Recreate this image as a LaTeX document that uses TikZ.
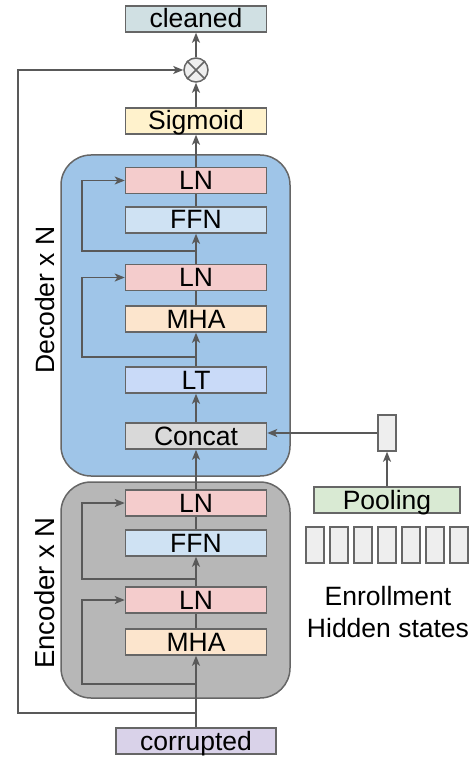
\documentclass[tikz,border=0pt]{standalone}
\usepackage{fontspec}
\setmainfont{Liberation Sans}
\usepackage{tikz}
\usetikzlibrary{arrows.meta}
\definecolor{lineGrey}{HTML}{595959}
\definecolor{boxGrey}{HTML}{666666}
\definecolor{cleanFill}{HTML}{D0E0E3}
\definecolor{sigFill}{HTML}{FFF2CC}
\definecolor{decFill}{HTML}{9FC5E8}
\definecolor{encFill}{HTML}{B7B7B7}
\definecolor{lnFill}{HTML}{F4CCCC}
\definecolor{ffnFill}{HTML}{CFE2F3}
\definecolor{mhaFill}{HTML}{FCE5CD}
\definecolor{ltFill}{HTML}{C9DAF8}
\definecolor{catFill}{HTML}{D9D9D9}
\definecolor{inFill}{HTML}{D9D2E9}
\definecolor{poolFill}{HTML}{D9EAD3}
\definecolor{stateFill}{HTML}{EEEEEE}
\tikzstyle{model}=[x=1pt, y=-1pt, line width=1.5pt, font=\fontsize{26.5}{32}\selectfont]
\tikzstyle{blk}=[draw=boxGrey, minimum width=141pt, minimum height=26pt, inner sep=0pt, text height=18pt, text depth=0pt]
\tikzstyle{stack}=[draw=boxGrey, rounded corners=30pt, inner sep=0pt]
\tikzstyle{stateBox}=[draw=boxGrey, fill=stateFill, minimum width=18pt, minimum height=36pt, inner sep=0pt]
\tikzstyle{mulNode}=[circle, draw=boxGrey, fill=stateFill, minimum size=24pt, inner sep=0pt]
\tikzstyle{edge}=[-{Stealth[length=10pt, width=8pt, inset=2.5pt]}, draw=lineGrey]
\tikzstyle{pipe}=[-, draw=lineGrey]
\tikzstyle{stackLabel}=[rotate=90]
\newcommand{\colX}{196}
\newcommand{\skipX}{82}
\newcommand{\outerX}{18}

\begin{document}
\begin{tikzpicture}[model]
\useasboundingbox (0,0) rectangle (474,759);

%The two stacks
\node[stack, fill=decFill, minimum width=229pt, minimum height=321pt] (dec) at (175.5,315.5) {};
\node[stack, fill=encFill, minimum width=229pt, minimum height=216pt] (enc) at (175.5,590) {};
\node[stackLabel] (decLabel) at (45,300) {Decoder x N};
\node[stackLabel, font=\fontsize{27.5}{32}\selectfont] (encLabel) at (45,593) {Encoder x N};

\node[blk, fill=cleanFill] (clean) at (\colX,19) {cleaned};
\node[mulNode] (mul) at (\colX,70) {};
\draw[draw=boxGrey] (mul.north west) -- (mul.south east);
\draw[draw=boxGrey] (mul.north east) -- (mul.south west);
\node[blk, fill=sigFill] (sig) at (\colX,121) {Sigmoid};

\node[blk, fill=lnFill] (dLN2) at (\colX,180.5) {LN};
\node[blk, fill=ffnFill] (dFFN) at (\colX,220) {FFN};
\node[blk, fill=lnFill] (dLN1) at (\colX,277.5) {LN};
\node[blk, fill=mhaFill] (dMHA) at (\colX,319) {MHA};
\node[blk, fill=ltFill] (lt) at (\colX,380) {LT};
\node[blk, fill=catFill] (concat) at (\colX,436) {Concat};

\node[blk, fill=lnFill] (eLN2) at (\colX,503) {LN};
\node[blk, fill=ffnFill] (eFFN) at (\colX,543) {FFN};
\node[blk, fill=lnFill] (eLN1) at (\colX,600) {LN};
\node[blk, fill=mhaFill] (eMHA) at (\colX,642) {MHA};

\node[blk, fill=inFill, minimum width=160pt] (corrupt) at (\colX,741) {corrupted};

%Enrollment side
\node[stateBox] (vec) at (387,433) {};
\node[blk, fill=poolFill, minimum width=146pt] (pool) at (387,500) {Pooling};
\foreach \i in {0,...,6}
  \node[stateBox] (h\i) at (315+24*\i,545) {};
\node[align=center] (enroll) at (388,612) {Enrollment\\Hidden states};

%Skip junctions on the main line
\coordinate (jOut) at (\colX,713);
\coordinate (jE1) at (\colX,684);
\coordinate (jE2) at (\colX,579);
\coordinate (jD1) at (\colX,357);
\coordinate (jD2) at (\colX,251);

\draw[edge] (corrupt) -- (eMHA);
\draw[pipe] (eMHA) -- (eLN1);
\draw[edge] (eLN1) -- (eFFN);
\draw[pipe] (eFFN) -- (eLN2);
\draw[edge] (eLN2) -- (concat);
\draw[edge] (concat) -- (lt);
\draw[edge] (lt) -- (dMHA);
\draw[pipe] (dMHA) -- (dLN1);
\draw[edge] (dLN1) -- (dFFN);
\draw[pipe] (dFFN) -- (dLN2);
\draw[edge] (dLN2) -- (sig);
\draw[edge] (sig) -- (mul);
\draw[edge] (mul) -- (clean);

\draw[edge] (jE1) -- (\skipX,684) |- (eLN1);
\draw[edge] (jE2) -- (\skipX,579) |- (eLN2);
\draw[edge] (jD1) -- (\skipX,357) |- (dLN1);
\draw[edge] (jD2) -- (\skipX,251) |- (dLN2);
\draw[edge] (jOut) -- (\outerX,713) |- (mul);

\draw[edge] (pool) -- (vec);
\draw[edge] (vec) -- (vec -| concat.east);
\end{tikzpicture}
\end{document}
